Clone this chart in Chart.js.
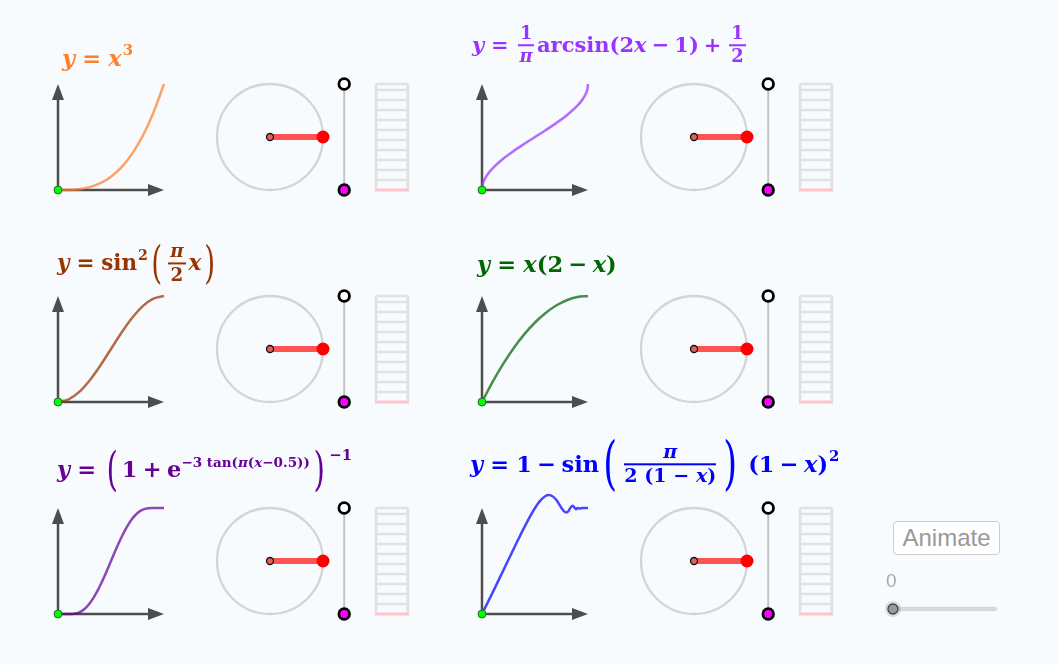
<!DOCTYPE html>
<html>
<head>
<meta charset="utf-8">
<script src="https://cdn.jsdelivr.net/npm/chart.js@4.4.1/dist/chart.umd.min.js"></script>
<style>
  body { margin:0; background:#f8fbfd; width:1058px; height:664px; overflow:hidden; position:relative; }
  #chart { position:absolute; left:0; top:0; }
  .m { position:absolute; display:flex; align-items:center; white-space:nowrap;
       font-family:"DejaVu Serif", serif; font-weight:bold; font-size:22.5px; transform:translateY(-50%); }
  .m i { font-style:italic; }
  .r { margin:0 .32em; }
  .b { margin:0 .24em; }
  .sup { font-size:.66em; position:relative; top:-.55em; margin-left:.06em; }
  .fr { display:inline-flex; flex-direction:column; align-items:stretch; margin:0 .12em; line-height:1.05; }
  .fr .n { border-bottom:2px solid currentColor; padding:0 .12em 1px; text-align:center; font-size:.85em; }
  .fr .d { text-align:center; font-size:.85em; padding-top:1px; }
  .P { font-weight:normal; font-size:2.1em; line-height:1; transform:scaleX(.62); }
  .ex { font-size:.6em; position:relative; top:-.5em; }
  button { position:absolute; left:893px; top:521px; width:107px; height:34px; padding:0;
           font-family:"Liberation Sans", Arial, sans-serif; font-size:24px; color:#999;
           background:#fff; border:1px solid #ccc; border-radius:4px; }
  .val { position:absolute; left:886px; top:570px; font-family:"Liberation Sans", sans-serif;
         font-size:19px; color:#aaa; }
</style>
</head>
<body>
<canvas id="chart" width="1058" height="664"></canvas>

<div class="m" style="left:62px;top:58px;color:#ff7f2a"><i>y</i><span class="r">=</span><i>x</i><span class="sup">3</span></div>

<div class="m" style="left:472px;top:45px;color:#9933ff;font-size:21px"><i>y</i><span class="r">=</span><span class="fr"><span class="n">1</span><span class="d"><i>π</i></span></span><span>arcsin(2</span><i>x</i><span class="b">−</span><span>1)</span><span class="b">+</span><span class="fr"><span class="n">1</span><span class="d">2</span></span></div>

<div class="m" style="left:57px;top:263px;color:#993300;font-size:21.5px"><i>y</i><span class="r">=</span><span>sin</span><span class="sup">2</span><span class="P">(</span><span class="fr"><span class="n"><i>π</i></span><span class="d">2</span></span><i>x</i><span class="P">)</span></div>

<div class="m" style="left:477px;top:264px;color:#006600"><i>y</i><span class="r">=</span><i>x</i><span>(2</span><span class="b">−</span><i>x</i><span>)</span></div>

<div class="m" style="left:57px;top:469px;color:#660099"><i>y</i><span class="r">=</span><span class="P">(</span><span>1</span><span class="b">+</span><span>e</span><span class="ex">−3 tan(<i>π</i>(<i>x</i>−0.5))</span><span class="P">)</span><span class="sup" style="top:-.95em">−1</span></div>

<div class="m" style="left:470px;top:464px;color:#0000ff"><i>y</i><span class="r">=</span><span>1</span><span class="b">−</span><span>sin</span><span class="P" style="font-size:2.55em">(</span><span class="fr"><span class="n"><i>π</i></span><span class="d">2 (1 − <i>x</i>)</span></span><span class="P" style="font-size:2.55em">)</span><span style="margin-left:.3em">(1</span><span class="b">−</span><i>x</i><span>)</span><span class="sup">2</span></div>

<button>Animate</button>
<div class="val">0</div>

<script>
// curve samples (x in 0..1)
const cubeX  = [0, 0.1, 0.2, 0.3, 0.4, 0.5, 0.6, 0.7, 0.8, 0.9, 1];
const cubeY  = [0, 0.001, 0.008, 0.027, 0.064, 0.125, 0.216, 0.343, 0.512, 0.729, 1];

const asinX  = [0, 0.005, 0.02, 0.05, 0.1, 0.2, 0.3, 0.4, 0.5, 0.6, 0.7, 0.8, 0.9, 0.95, 0.98, 0.995, 1];
const asinY  = [0, 0.045, 0.090, 0.144, 0.205, 0.295, 0.369, 0.436, 0.5, 0.564, 0.631, 0.705, 0.795, 0.856, 0.910, 0.955, 1];

const sinSqX = [0, 0.1, 0.2, 0.3, 0.4, 0.5, 0.6, 0.7, 0.8, 0.9, 1];
const sinSqY = [0, 0.024, 0.095, 0.206, 0.345, 0.5, 0.655, 0.794, 0.905, 0.976, 1];

const parabX = [0, 0.1, 0.2, 0.3, 0.4, 0.5, 0.6, 0.7, 0.8, 0.9, 1];
const parabY = [0, 0.19, 0.36, 0.51, 0.64, 0.75, 0.84, 0.91, 0.96, 0.99, 1];

const logitX = [0, 0.1, 0.15, 0.2, 0.25, 0.3, 0.35, 0.4, 0.45, 0.5, 0.55, 0.6, 0.65, 0.7, 0.75, 0.8, 0.85, 0.9, 1];
const logitY = [0, 0.0001, 0.003, 0.016, 0.047, 0.102, 0.178, 0.274, 0.383, 0.5, 0.617, 0.726, 0.822, 0.898, 0.953, 0.984, 0.997, 0.9999, 1];

const dampX  = [0, 0.1, 0.2, 0.3, 0.4, 0.5, 0.55, 0.6, 0.625, 0.65, 0.7, 0.75, 0.775, 0.795, 0.815, 0.833, 0.855, 0.875, 0.889, 0.9, 0.92, 0.95, 1];
const dampY  = [0, 0.202, 0.409, 0.617, 0.82, 1, 1.069, 1.113, 1.122, 1.119, 1.078, 1, 0.968, 0.958, 0.97, 1, 1.021, 1, 0.988, 1, 0.996, 1, 1];

const curveXs = [cubeX, asinX, sinSqX, parabX, logitX, dampX];
const curveYs = [cubeY, asinY, sinSqY, parabY, logitY, dampY];
const curveColors = ['#ff7f2a', '#9933ff', '#993300', '#006600', '#660099', '#0000ff'];
const panelCol = [0, 1, 0, 1, 0, 1];
const panelRow = [0, 0, 1, 1, 2, 2];

// ladder rungs and animation state
const rungLevels = [0.094, 0.189, 0.283, 0.377, 0.472, 0.566, 0.660, 0.755, 0.849, 0.943, 1];
const t = 0;

function hexA(hex, a) {
  const n = parseInt(hex.slice(1), 16);
  return 'rgba(' + (n >> 16) + ',' + ((n >> 8) & 255) + ',' + (n & 255) + ',' + a + ')';
}

function valueAt(xs, ys, v) {
  for (let i = 1; i < xs.length; i++) {
    if (v <= xs[i]) return ys[i-1] + (ys[i] - ys[i-1]) * (v - xs[i-1]) / (xs[i] - xs[i-1]);
  }
  return ys[ys.length - 1];
}

const datasets = curveXs.map(function (xs, i) {
  const dx = 4 * panelCol[i], dy = -2 * panelRow[i];
  return {
    data: xs.map((v, k) => ({ x: v + dx, y: curveYs[i][k] + dy })),
    showLine: true,
    borderColor: hexA(curveColors[i], 0.72),
    borderWidth: 2.5,
    pointRadius: 0,
    cubicInterpolationMode: 'monotone'
  };
});

function dot(ctx, x, y, r, fill, stroke, lw) {
  ctx.beginPath();
  ctx.arc(x, y, r, 0, Math.PI * 2);
  if (fill) { ctx.fillStyle = fill; ctx.fill(); }
  if (stroke) { ctx.lineWidth = lw; ctx.strokeStyle = stroke; ctx.stroke(); }
}

function line(ctx, x1, y1, x2, y2, color, w, cap) {
  ctx.beginPath();
  ctx.moveTo(x1, y1);
  ctx.lineTo(x2, y2);
  ctx.strokeStyle = color;
  ctx.lineWidth = w;
  ctx.lineCap = cap || 'butt';
  ctx.stroke();
}

const decor = {
  id: 'decor',
  beforeDatasetsDraw(chart) {
    const ctx = chart.ctx, sx = chart.scales.x, sy = chart.scales.y;
    const X = v => sx.getPixelForValue(v), Y = v => sy.getPixelForValue(v);
    ctx.save();
    for (let i = 0; i < 6; i++) {
      const dx = 4 * panelCol[i], dy = -2 * panelRow[i];
      const ox = X(dx), oy = Y(dy), tx = X(1 + dx), ty = Y(1 + dy);
      // axes with arrow heads
      line(ctx, ox, oy, tx - 10, oy, '#4d4d4d', 2.5);
      line(ctx, ox, oy, ox, ty + 10, '#4d4d4d', 2.5);
      ctx.fillStyle = '#4d4d4d';
      ctx.beginPath(); ctx.moveTo(tx, oy); ctx.lineTo(tx - 16, oy - 6); ctx.lineTo(tx - 16, oy + 6); ctx.closePath(); ctx.fill();
      ctx.beginPath(); ctx.moveTo(ox, ty); ctx.lineTo(ox - 6, ty + 16); ctx.lineTo(ox + 6, ty + 16); ctx.closePath(); ctx.fill();
      // circle
      ctx.beginPath();
      ctx.arc(X(2 + dx), Y(0.5 + dy), X(2.5) - X(2), 0, Math.PI * 2);
      ctx.strokeStyle = '#d2d4d8'; ctx.lineWidth = 2.3; ctx.stroke();
      // slider track
      line(ctx, X(2.7 + dx), Y(dy), X(2.7 + dx), Y(1 + dy), '#c4c4c4', 2);
      // ladder
      const lx0 = X(3.0 + dx), lx1 = X(3.3 + dx);
      line(ctx, lx0, Y(dy), lx0, Y(1 + dy), '#e0e0e0', 2.8);
      line(ctx, lx1, Y(dy), lx1, Y(1 + dy), '#e0e0e0', 2.8);
      rungLevels.forEach(v => line(ctx, lx0, Y(v + dy), lx1, Y(v + dy), '#e2e2e2', 2.5));
    }
    ctx.restore();
  },
  afterDatasetsDraw(chart) {
    const ctx = chart.ctx, sx = chart.scales.x, sy = chart.scales.y;
    const X = v => sx.getPixelForValue(v), Y = v => sy.getPixelForValue(v);
    ctx.save();
    for (let i = 0; i < 6; i++) {
      const dx = 4 * panelCol[i], dy = -2 * panelRow[i];
      const yt = valueAt(curveXs[i], curveYs[i], t);
      // origin point
      dot(ctx, X(dx), Y(dy), 4, '#00ff00', '#2a6a2a', 1);
      // radius on the circle
      const cx = X(2 + dx), cy = Y(0.5 + dy);
      const px = X(2 + 0.5 * Math.cos(2 * Math.PI * t) + dx), py = Y(0.5 + 0.5 * Math.sin(2 * Math.PI * t) + dy);
      line(ctx, cx, cy, px, py, 'rgba(255,40,40,0.8)', 6);
      dot(ctx, cx, cy, 3.5, '#e0605a', '#111', 1.3);
      dot(ctx, px, py, 6.5, '#ff0000');
      // slider end points
      dot(ctx, X(2.7 + dx), Y(1 + dy), 5.3, '#ffffff', '#000', 2.8);
      dot(ctx, X(2.7 + dx), Y(yt + dy), 5.3, '#ff00ff', '#000', 2.8);
      // current level on the ladder
      line(ctx, X(3.0 + dx) - 1, Y(yt + dy), X(3.3 + dx) + 1, Y(yt + dy), '#ffc4cc', 3);
    }
    // animation slider (bottom right)
    const s0 = X(7.877), s1 = X(8.84), syp = Y(-3.953);
    line(ctx, s0, syp, s1, syp, '#d9d9d9', 4.5, 'round');
    const kx = s0 + (s1 - s0) * t;
    dot(ctx, kx, syp, 8, 'rgba(0,0,0,0.12)');
    dot(ctx, kx, syp, 5, '#9a9a9a', '#444', 1.3);
    ctx.restore();
  }
};

new Chart(document.getElementById('chart'), {
  type: 'scatter',
  data: { datasets: datasets },
  options: {
    responsive: false,
    animation: false,
    layout: { padding: 0 },
    plugins: { legend: { display: false }, tooltip: { enabled: false } },
    scales: {
      x: { type: 'linear', display: false, min: -58 / 106, max: 1000 / 106 },
      y: { type: 'linear', display: false, min: -474 / 106, max: 190 / 106 }
    }
  },
  plugins: [decor]
});
</script>
</body>
</html>
